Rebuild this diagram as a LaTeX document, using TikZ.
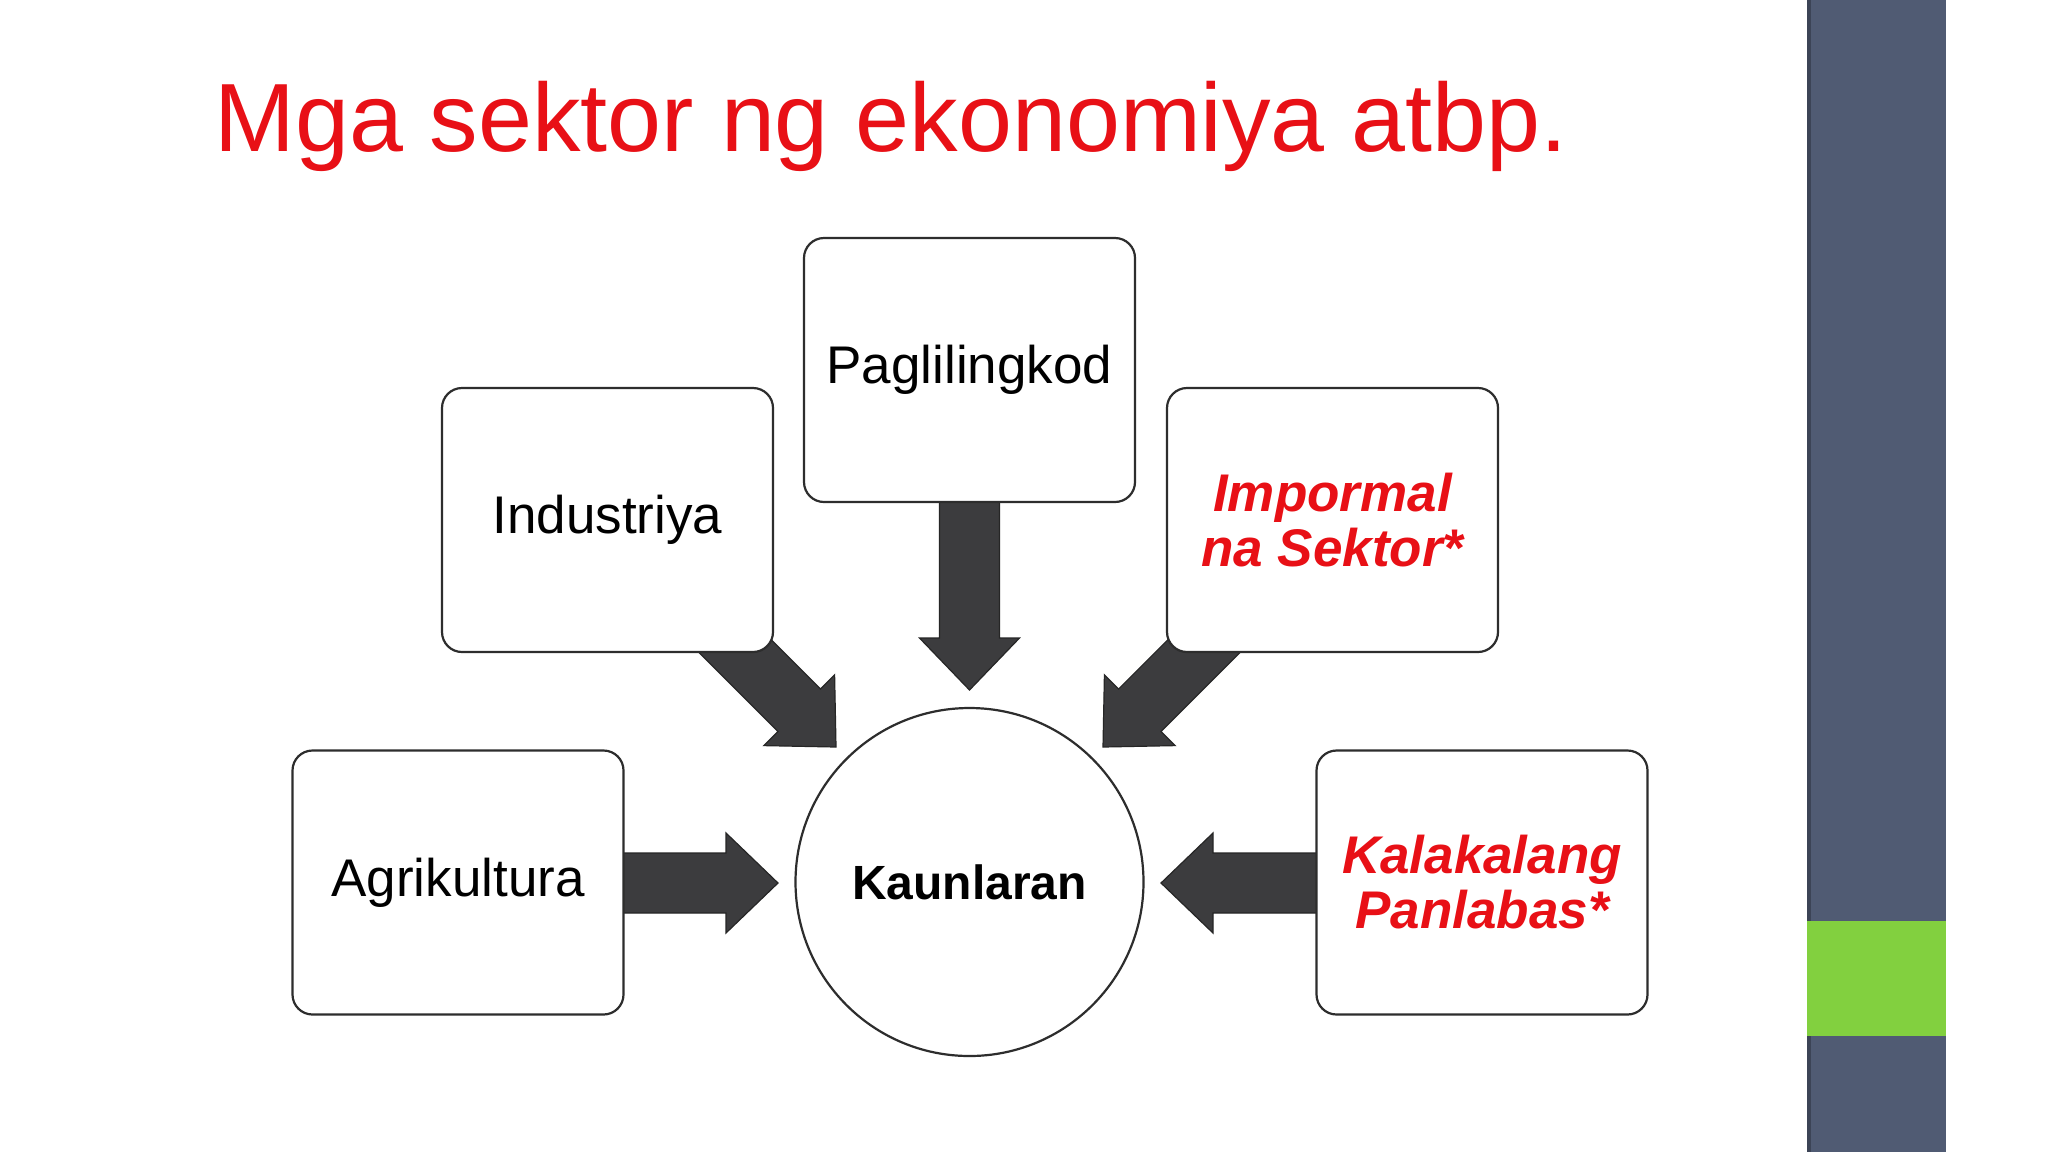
\documentclass[tikz,border=0pt]{standalone}
\usepackage{fontspec}
\setmainfont{Liberation Sans}
\definecolor{titlered}{RGB}{232,16,22}
\definecolor{barblue}{RGB}{80,91,115}
\definecolor{bargreen}{RGB}{130,208,63}
\definecolor{arrowgray}{RGB}{60,60,62}
\definecolor{edgegray}{RGB}{45,45,45}
\begin{document}
\begin{tikzpicture}[x=0.5pt,y=-0.5pt,
  box/.style={draw=edgegray, line width=1.1pt, fill=white, rounded corners=10pt,
    minimum width=165.5pt, minimum height=132pt, inner sep=0pt, align=center,
    font=\fontsize{26.5}{27.5}\selectfont},
  redtext/.style={text=titlered, font=\fontsize{26.5}{27.5}\selectfont\bfseries\itshape},
  blk/.style={fill=arrowgray, draw=black!85, line width=0.6pt, line join=miter},
]
\path[use as bounding box, fill=white] (0,0) rectangle (2048,1152);
% side bar
\fill[barblue] (1807,0) rectangle (1946,1152);
\fill[barblue!75!black] (1807,0) rectangle (1811,1152);
\fill[bargreen] (1807,921) rectangle (1946,1036);
% title
\node[anchor=base west, text=titlered, font=\fontsize{48.5}{48.5}\selectfont, inner sep=0pt] (title) at (214,151) {Mga sektor ng ekonomiya atbp.};
% arrow tips
\coordinate (tA) at (778,883);
\coordinate (tK) at (1161,883);
\coordinate (tP) at (969.5,690);
\coordinate (tI) at (836,747);
\coordinate (tM) at (1103,747);
% block arrows
\foreach \t/\r/\L in {tA/0/180, tK/180/180, tP/-90/205, tI/-45/175, tM/-135/175}{
  \begin{scope}[shift={(\t)}, rotate=\r]
    \filldraw[blk] (0,0) -- (-52,50) -- (-52,30) -- (-\L,30) -- (-\L,-30) -- (-52,-30) -- (-52,-50) -- cycle;
  \end{scope}
}
% boxes
\node[box] (pag) at (969.5,370) {Paglilingkod};
\node[box] (ind) at (607.5,520) {Industriya};
\node[box, redtext] (imp) at (1332.5,520) {Impormal\\na Sektor*};
\node[box] (agr) at (458,882.5) {Agrikultura};
\node[box, redtext] (kal) at (1482,882.5) {Kalakalang\\Panlabas*};
\node[circle, draw=edgegray, line width=1.1pt, fill=white, minimum size=174pt, inner sep=0pt,
  font=\fontsize{24}{24}\selectfont\bfseries] (kaun) at (969.5,882) {Kaunlaran};
\end{tikzpicture}
\end{document}
